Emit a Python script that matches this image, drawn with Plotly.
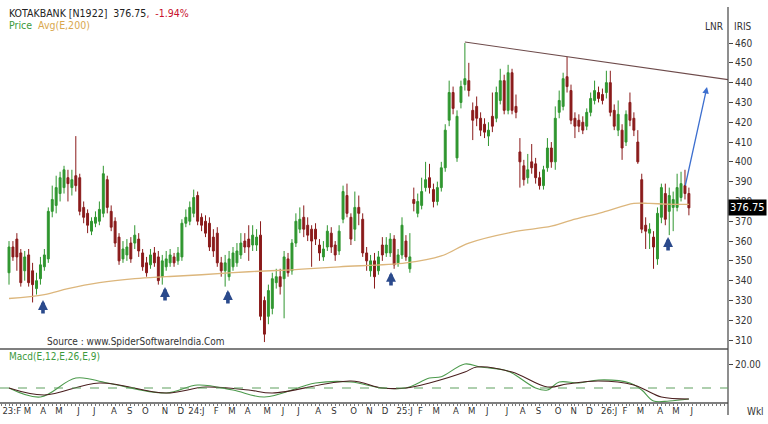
import pandas as pd
import plotly.graph_objects as go

# ---------------- data (weekly) ----------------
start_week = "2023-02-06"
opens = [344,357,361,354,345,353,345,336,341,347,351,375,378,384,387,392,387,393,392,377,
         374,365,369,370,374,391,375,370,362,351,353,359,359,361,354,349,348,354,352,342,
         347,349,352,350,352,369,370,374,383,372,370,369,362,364,349,345,342,347,349,353,
         360,361,358,358,363,330,322,326,339,342,341,351,345,359,366,372,368,366,366,358,
         352,357,364,358,355,371,383,372,366,377,371,354,345,350,345,358,354,354,361,349,
         353,360,346,381,374,378,387,392,386,380,387,397,421,435,402,430,439,441,426,428,
         422,419,413,423,422,431,441,426,445,428,405,398,392,400,399,392,388,397,407,400,
         425,428,443,436,422,421,420,418,425,431,435,434,435,440,426,416,416,410,430,422,
         410,391,368,364,362,351,372,384,375,377,377,382,388,384]
highs = [360,360,364,356,355,356,349,344,352,356,377,388,393,395,398,396,396,413,394,380,
         376,372,375,380,398,393,378,372,364,360,361,362,368,364,356,352,356,357,355,353,
         355,356,354,357,371,376,380,386,385,374,373,372,366,367,352,353,355,357,359,364,
         364,368,368,366,370,332,338,344,346,346,355,354,361,374,377,378,372,368,369,361,
         360,368,367,360,368,388,389,374,385,383,374,357,353,354,355,362,362,364,363,356,
         372,363,364,387,384,392,400,399,389,390,400,419,441,438,426,441,460,450,430,433,
         425,422,420,435,438,447,444,449,447,434,412,401,404,409,402,395,398,412,410,428,
         436,445,453,439,425,424,423,427,435,441,438,437,446,446,429,431,419,426,435,425,
         416,394,372,369,365,377,389,389,387,385,394,395,396,387]
lows = [338,350,345,337,340,337,329,333,338,345,349,372,374,380,384,380,383,385,373,369,
        364,363,367,368,372,374,365,357,348,349,350,349,356,352,345,342,346,347,338,338,
        345,347,347,348,350,367,368,372,368,365,362,355,352,347,342,337,340,345,347,351,
        354,350,355,355,320,309,318,323,336,333,321,342,343,357,364,362,360,347,358,350,
        350,355,354,350,353,369,372,358,360,368,352,345,342,336,343,350,352,352,346,347,
        351,350,344,375,372,376,385,384,377,378,385,395,418,424,400,427,436,433,411,418,
        413,412,408,415,420,429,424,424,424,422,387,388,389,394,389,386,386,395,397,396,
        422,426,435,419,412,415,414,416,423,429,430,429,432,423,416,413,401,408,418,413,
        399,364,356,356,346,348,369,368,363,365,375,380,381,373]
closes = [357,352,352,339,352,339,338,340,348,353,375,381,387,392,396,389,391,388,375,372,
          368,370,372,376,394,377,367,359,350,356,357,351,363,355,347,344,353,349,340,350,
          351,353,349,354,369,372,377,382,370,368,364,357,355,349,345,349,351,354,355,359,
          357,357,363,362,322,313,335,341,342,337,352,344,359,370,371,366,363,360,361,354,
          356,365,357,353,365,385,374,361,377,374,354,350,350,342,352,353,358,361,348,353,
          368,352,352,379,380,385,391,387,380,387,397,416,435,427,423,438,442,436,421,422,
          416,415,416,418,435,441,426,445,426,425,400,391,396,397,392,388,396,407,400,422,
          431,442,438,421,418,418,416,425,432,436,432,431,440,425,418,424,407,424,421,416,
          400,366,365,366,357,374,387,371,383,381,387,389,384,376.75]

# 200-week EMA, read at points (week index, value)
ema_idx = [0, 9, 15, 23, 32, 40, 49, 61, 72, 84, 101, 110, 117, 128, 138, 143, 151, 159, 163, 167, 173]
ema_val = [331, 333, 336, 339, 341, 342, 343, 344.5, 345.5, 347, 349, 352.5, 359, 364.5,
           367.5, 370.5, 374.5, 379, 379, 378.7, 378.5]

# MACD(12,26,9) lines, read at points (week index, value)
macd_idx = [0, 8, 17, 25, 40, 48, 57, 65, 78, 87, 95, 101, 107, 110, 116, 120, 126, 128,
            134, 137, 140, 145, 150, 158, 161, 164, 168, 173]
macd_val = [0, -7.5, 8.3, 4.2, -4.2, 2.5, -1.7, -7.5, 4.2, 5, 0, 0, 8.3, 9.4, 20, 17.5, 15,
            12.5, 0, -1.7, 5, 4.2, 6.7, 4.2, -1.7, -10.8, -10.8, -9.2]
sig_idx = [0, 9, 23, 40, 50, 61, 67, 87, 95, 101, 107, 116, 119, 128, 137, 142, 150, 159,
           162, 166, 173]
sig_val = [0, -5.8, 4.2, -4.2, 0.8, -1.7, -4.2, 5.8, 0, 0, 4.2, 13.3, 17.5, 13.3, 0.8, 3.3,
           5.8, 2.5, -1.7, -7.5, -9.2]

# resistance trend line (week index, price)
trend_idx = [116, 183]
trend_val = [460.5, 441.5]

# support arrows (week index, price at arrow tip)
arrow_idx = [8.65, 39.7, 55.7, 97.2, 167.7]
arrow_val = [330.2, 336.8, 335.3, 344.4, 362.0]

# projection arrow (from -> to)
proj_from = (172, 387.3)
proj_to = (177.6, 437.8)

price_ticks = list(range(310, 461, 10))
last_price = 376.75

# ---------------- build ----------------
dates = pd.date_range(start_week, periods=len(closes), freq="W-MON")
idx = list(range(len(closes)))
month_letters = "JFMAMJJASOND"
tickvals, ticktext = [], []
for i, d in enumerate(dates):
    if i == 0 or d.month != dates[i - 1].month:
        lab = month_letters[d.month - 1]
        if i == 0 or d.month == 1:
            lab = f"{d.year % 100}:{lab}"
        tickvals.append(i + 0.7)
        ticktext.append(lab)

GREEN = "#2f962f"
RED = "#8a1b1b"
FONT = "DejaVu Sans Condensed, DejaVu Sans, sans-serif"

fig = go.Figure()
fig.add_trace(go.Candlestick(
    x=idx, open=opens, high=highs, low=lows, close=closes,
    increasing=dict(line=dict(color=GREEN, width=1), fillcolor=GREEN),
    decreasing=dict(line=dict(color=RED, width=1), fillcolor=RED),
    whiskerwidth=0, xaxis="x", yaxis="y", showlegend=False, hoverinfo="skip"))
fig.add_trace(go.Scatter(x=ema_idx, y=ema_val, mode="lines", line=dict(color="#dcb67c", width=1.3, shape="spline"),
                         xaxis="x", yaxis="y", showlegend=False, hoverinfo="skip"))
fig.add_trace(go.Scatter(x=trend_idx, y=trend_val, mode="lines", line=dict(color="#6e4b4b", width=1.1),
                         xaxis="x", yaxis="y", showlegend=False, hoverinfo="skip", cliponaxis=True))
fig.add_trace(go.Scatter(x=macd_idx, y=macd_val, mode="lines", line=dict(color="#4c9a4c", width=1.1, shape="spline"),
                         xaxis="x2", yaxis="y2", showlegend=False, hoverinfo="skip"))
fig.add_trace(go.Scatter(x=sig_idx, y=sig_val, mode="lines", line=dict(color="#4a1f1f", width=1.1, shape="spline"),
                         xaxis="x2", yaxis="y2", showlegend=False, hoverinfo="skip"))

xr = [-2.29, 182.95]
p_dom = [1 - 349 / 424, 1 - 5 / 424]
m_dom = [1 - 403 / 424, 1 - 349 / 424]

fig.update_layout(
    width=768, height=424,
    margin=dict(l=0, r=40, t=0, b=0),
    paper_bgcolor="white", plot_bgcolor="white",
    font=dict(family=FONT, size=10, color="#333333"),
    hovermode=False,
    xaxis=dict(domain=[0, 1], range=xr, showticklabels=False, showgrid=False, zeroline=False,
               rangeslider=dict(visible=False), anchor="y"),
    yaxis=dict(domain=p_dom, range=[305.5, 479.2], side="right", anchor="x",
               tickvals=price_ticks, ticks="outside", ticklen=4, tickcolor="#444",
               showgrid=False, zeroline=False, showline=False,
               tickfont=dict(family=FONT, size=10, color="#333")),
    xaxis2=dict(domain=[0, 1], range=xr, anchor="y2", matches="x", showgrid=False, zeroline=False,
                tickmode="array", tickvals=tickvals, ticktext=ticktext, ticks="",
                tickfont=dict(family=FONT, size=9.5, color="#333"),
                minor=dict(tickmode="linear", tick0=0, dtick=1, ticks="outside", ticklen=2,
                           tickcolor="#777", showgrid=False)),
    yaxis2=dict(domain=m_dom, range=[-12.5, 32.5], side="right", anchor="x2",
                tickvals=[20], ticktext=["20.00"], ticks="outside", ticklen=4, tickcolor="#444",
                showgrid=False, zeroline=False, tickfont=dict(family=FONT, size=10, color="#333")),
)

shapes = [
    dict(type="line", xref="paper", yref="paper", x0=0, x1=1, y0=p_dom[0], y1=p_dom[0],
         line=dict(color="#555", width=1.3)),
    dict(type="line", xref="paper", yref="paper", x0=0, x1=1, y0=m_dom[0], y1=m_dom[0],
         line=dict(color="#555", width=1.3)),
    dict(type="line", xref="paper", yref="paper", x0=1, x1=1, y0=1 - 415 / 424, y1=1 - 7 / 424,
         line=dict(color="#444", width=1.2)),
    dict(type="line", xref="paper", yref="y2", x0=0, x1=1, y0=0, y1=0,
         line=dict(color="#5fa05f", width=1.1, dash="dash")),
]
fig.update_layout(shapes=shapes)

ann = [
    dict(xref="paper", yref="paper", x=0, y=1 - 13 / 424, xanchor="left", yanchor="middle", xshift=7,
         text="KOTAKBANK [N1922]  376.75<span style='color:#c8102e'>,  -1.94%</span>",
         showarrow=False, font=dict(family=FONT, size=10.5, color="#222")),
    dict(xref="paper", yref="paper", x=0, y=1 - 25 / 424, xanchor="left", yanchor="middle", xshift=7,
         text="<span style='color:#3c9a3c'>Price</span>  <span style='color:#d9a84e'>Avg(E,200)</span>",
         showarrow=False, font=dict(family=FONT, size=10.5)),
    dict(xref="paper", yref="paper", x=1, y=1 - 26 / 424, xanchor="right", yanchor="middle", xshift=-3,
         text="LNR", showarrow=False, font=dict(family=FONT, size=10, color="#333")),
    dict(xref="paper", yref="paper", x=1, y=1 - 26 / 424, xanchor="left", yanchor="middle", xshift=4,
         text="IRIS", showarrow=False, font=dict(family=FONT, size=10, color="#333")),
    dict(xref="paper", yref="paper", x=45 / 728, y=1 - 341 / 424, xanchor="left", yanchor="middle",
         text="Source : www.SpiderSoftwareIndia.Com", showarrow=False,
         font=dict(family=FONT, size=10, color="#333")),
    dict(xref="paper", yref="paper", x=0, y=1 - 356 / 424, xanchor="left", yanchor="middle", xshift=7,
         text="Macd(E,12,E,26,E,9)", showarrow=False, font=dict(family=FONT, size=10, color="#3c9a3c")),
    dict(xref="paper", yref="paper", x=1, y=1 - 411 / 424, xanchor="left", yanchor="middle", xshift=17,
         text="Wkl", showarrow=False, font=dict(family=FONT, size=10, color="#333")),
    dict(xref="paper", yref="y", x=1, y=last_price, xanchor="left", yanchor="middle", xshift=0,
         text=f"{last_price:.2f}", showarrow=False, bgcolor="black", borderpad=1,
         font=dict(family=FONT, size=11, color="white")),
    dict(xref="x", yref="y", x=proj_to[0], y=proj_to[1], axref="x", ayref="y",
         ax=proj_from[0], ay=proj_from[1], showarrow=True, arrowhead=2, arrowsize=1,
         arrowwidth=1.3, arrowcolor="#3d6fcf", text=""),
]
for xi, yi in zip(arrow_idx, arrow_val):
    ann.append(dict(xref="x", yref="y", x=xi, y=yi, ax=0, ay=15, showarrow=True, arrowhead=2,
                    arrowsize=0.55, arrowwidth=3.6, arrowcolor="#2b4a8c", text=""))
fig.update_layout(annotations=ann)

fig.write_html("out.html")
